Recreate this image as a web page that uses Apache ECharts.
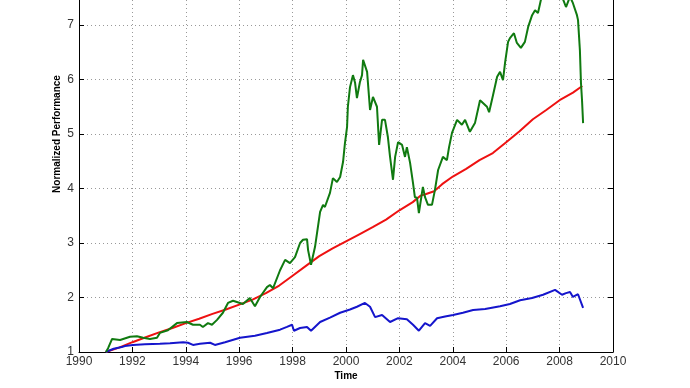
<!DOCTYPE html>
<html>
<head>
<meta charset="utf-8">
<script src="https://cdn.jsdelivr.net/npm/echarts@6/dist/echarts.min.js"></script>
<style>html,body{margin:0;padding:0;background:#fff}#c{width:690px;height:388px}</style>
</head>
<body>
<div id="c"></div>
<script>
const xTicks = [1990, 1992, 1994, 1996, 1998, 2000, 2002, 2004, 2006, 2008, 2010];
const yTicks = [1, 2, 3, 4, 5, 6, 7, 8, 9];

const greenSeries = [
[1991.01,1.00],[1991.09,1.07],[1991.24,1.24],[1991.54,1.22],[1991.91,1.28],[1992.17,1.29],[1992.40,1.26],[1992.66,1.24],[1992.92,1.26],
[1993.03,1.35],[1993.33,1.40],[1993.67,1.53],[1994.04,1.55],[1994.27,1.50],[1994.53,1.50],[1994.64,1.46],[1994.83,1.53],[1994.98,1.50],
[1995.17,1.59],[1995.39,1.72],[1995.58,1.90],[1995.77,1.94],[1996.14,1.88],[1996.40,1.99],[1996.59,1.84],[1996.78,2.01],
[1997.04,2.19],[1997.15,2.23],[1997.27,2.17],[1997.53,2.50],[1997.72,2.69],[1997.90,2.63],[1998.09,2.74],[1998.28,3.00],[1998.39,3.06],
[1998.54,3.07],[1998.58,2.87],[1998.69,2.60],[1998.84,2.93],[1999.03,3.57],[1999.14,3.70],[1999.21,3.66],[1999.40,3.92],[1999.51,4.19],
[1999.66,4.12],[1999.78,4.21],[1999.89,4.49],[1999.96,4.83],[2000.04,5.13],[2000.07,5.50],[2000.15,5.86],[2000.26,6.08],[2000.34,5.94],
[2000.41,5.66],[2000.52,5.95],[2000.60,6.08],[2000.64,6.36],[2000.79,6.14],[2000.90,5.44],[2001.01,5.68],[2001.16,5.50],[2001.24,4.80],
[2001.35,5.26],[2001.46,5.26],[2001.57,4.94],[2001.65,4.58],[2001.76,4.16],[2001.84,4.58],[2001.95,4.85],[2002.10,4.80],[2002.21,4.58],
[2002.28,4.76],[2002.40,4.47],[2002.51,4.10],[2002.58,3.84],[2002.66,3.83],[2002.73,3.55],[2002.88,4.03],[2002.96,3.84],[2003.07,3.70],
[2003.22,3.70],[2003.33,3.97],[2003.45,4.34],[2003.63,4.58],[2003.78,4.52],[2003.86,4.76],[2003.97,5.02],[2004.16,5.26],[2004.34,5.17],
[2004.46,5.26],[2004.64,5.04],[2004.83,5.20],[2005.02,5.62],[2005.13,5.57],[2005.28,5.50],[2005.36,5.40],[2005.51,5.72],[2005.66,6.05],
[2005.77,6.14],[2005.88,5.99],[2005.96,6.32],[2006.07,6.69],[2006.14,6.76],[2006.29,6.85],[2006.40,6.67],[2006.55,6.58],[2006.70,6.69],
[2006.82,6.96],[2006.97,7.18],[2007.08,7.27],[2007.19,7.22],[2007.34,7.55],[2007.57,7.75],[2007.83,7.65],[2008.01,7.70],[2008.13,7.47],
[2008.24,7.33],[2008.39,7.52],[2008.50,7.40],[2008.65,7.18],[2008.69,7.09],[2008.76,6.54],[2008.80,5.94],[2008.84,5.62],[2008.88,5.20]
];

const redSeries = [
[1991.0,1.00],[1991.5,1.08],[1992.0,1.18],[1992.5,1.27],[1993.0,1.36],[1993.5,1.44],[1994.0,1.53],[1994.5,1.61],[1995.0,1.70],
[1995.5,1.78],[1996.0,1.87],[1996.5,1.96],[1997.0,2.08],[1997.5,2.22],[1998.0,2.40],[1998.5,2.58],[1999.0,2.76],[1999.5,2.90],
[2000.0,3.03],[2000.5,3.16],[2001.0,3.29],[2001.5,3.43],[2002.0,3.60],[2002.5,3.75],[2002.8,3.87],[2003.0,3.90],[2003.3,3.95],
[2003.6,4.08],[2004.0,4.22],[2004.5,4.36],[2005.0,4.52],[2005.5,4.65],[2006.0,4.85],[2006.5,5.05],[2007.0,5.27],[2007.5,5.44],
[2008.0,5.62],[2008.5,5.76],[2008.85,5.88]
];

const blueSeries = [
[1991.0,1.00],[1991.3,1.06],[1991.6,1.09],[1991.72,1.11],[1992.02,1.13],[1992.47,1.14],[1993.03,1.15],[1993.41,1.16],[1993.90,1.18],
[1994.08,1.17],[1994.27,1.13],[1994.53,1.15],[1994.91,1.17],[1995.09,1.13],[1995.47,1.18],[1996.03,1.26],[1996.59,1.30],[1997.04,1.35],
[1997.53,1.41],[1997.79,1.46],[1997.98,1.50],[1998.05,1.39],[1998.28,1.44],[1998.54,1.46],[1998.69,1.39],[1999.03,1.55],[1999.40,1.63],
[1999.78,1.72],[2000.15,1.78],[2000.41,1.83],[2000.71,1.90],[2000.90,1.83],[2001.09,1.64],[2001.35,1.68],[2001.65,1.55],[2001.95,1.62],
[2002.28,1.60],[2002.51,1.50],[2002.73,1.39],[2002.96,1.53],[2003.15,1.48],[2003.41,1.62],[2003.71,1.65],[2004.01,1.68],[2004.38,1.72],
[2004.76,1.77],[2005.21,1.79],[2005.77,1.84],[2006.14,1.88],[2006.52,1.95],[2006.97,1.99],[2007.38,2.05],[2007.83,2.14],[2008.09,2.05],
[2008.24,2.08],[2008.39,2.10],[2008.50,2.01],[2008.69,2.06],[2008.88,1.81]
];

const chart = echarts.init(document.getElementById('c'), null, {renderer: 'canvas'});
const labelFont = {fontFamily: 'Liberation Sans, Arial, sans-serif', fontSize: 12, color: '#333'};
const gridLine = {show: true, lineStyle: {color: '#999', type: [1, 3], width: 1}};
chart.setOption({
  animation: false,
  grid: {left: 79, right: 77, top: -84, bottom: 36, show: false, containLabel: false, outerBoundsMode: 'none'},
  xAxis: {
    type: 'value', min: xTicks[0], max: xTicks[xTicks.length - 1], interval: 2,
    axisLine: {show: true, onZero: false, lineStyle: {color: '#000', width: 1}},
    axisTick: {show: true, inside: true, length: 5, lineStyle: {color: '#000'}},
    axisLabel: Object.assign({margin: 4, formatter: v => String(v)}, labelFont),
    splitLine: gridLine,
    name: 'Time', nameLocation: 'middle', nameGap: 19, nameMoveOverlap: false,
    nameTextStyle: {fontFamily: 'Liberation Sans, Arial, sans-serif', fontSize: 10, fontWeight: 'bold', color: '#000'}
  },
  yAxis: [{
    type: 'value', min: yTicks[0], max: yTicks[yTicks.length - 1], interval: 1,
    axisLine: {show: true, onZero: false, lineStyle: {color: '#000', width: 1}},
    axisTick: {show: true, inside: true, length: 5, lineStyle: {color: '#000'}},
    axisLabel: Object.assign({margin: 5}, labelFont),
    splitLine: gridLine,
    name: 'Normalized Performance', nameLocation: 'middle', nameGap: 17, nameRotate: 90, nameMoveOverlap: false,
    nameTextStyle: {fontFamily: 'Liberation Sans, Arial, sans-serif', fontSize: 10, fontWeight: 'bold', color: '#000'}
  }, {
    type: 'value', position: 'right', min: yTicks[0], max: yTicks[yTicks.length - 1], interval: 1,
    axisLine: {show: true, onZero: false, lineStyle: {color: '#000', width: 1}},
    axisTick: {show: true, inside: true, length: 5, lineStyle: {color: '#000'}},
    axisLabel: {show: false}, splitLine: {show: false}
  }],
  series: [
    {type: 'line', data: greenSeries, showSymbol: false, lineStyle: {color: '#107a10', width: 2}, z: 3},
    {type: 'line', data: redSeries, showSymbol: false, lineStyle: {color: '#ee1111', width: 2}, z: 2},
    {type: 'line', data: blueSeries, showSymbol: false, lineStyle: {color: '#1515cc', width: 2}, z: 2}
  ]
});
</script>
</body>
</html>
